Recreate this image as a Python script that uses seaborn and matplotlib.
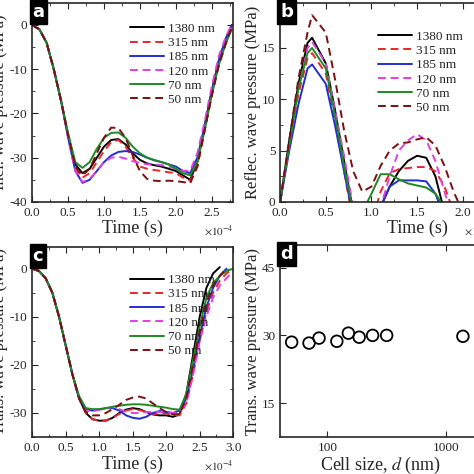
import numpy as np
import matplotlib
matplotlib.use("Agg")
import matplotlib.pyplot as plt
import seaborn as sns
from matplotlib.ticker import AutoMinorLocator

sns.set_style("ticks")
plt.rcParams['font.family'] = ['Liberation Serif', 'DejaVu Serif']
plt.rcParams['mathtext.fontset'] = 'stix'
plt.rcParams['axes.unicode_minus'] = False

labels = ['1380 nm', '315 nm', '185 nm', '120 nm', '70 nm', '50 nm']
colors = ['black', '#e8262b', '#1f2fd1', '#e040e0', '#1e8a24', '#7a1010']
styles = ['-', '--', '-', '--', '-', '--']
nan = np.nan

# panel a: incident wave
t_a = [0, .1, .2, .3, .4, .5, .6, .7, .8, .9, 1.0, 1.1, 1.2, 1.3, 1.4, 1.5, 1.6, 1.7,
       1.8, 1.9, 2.0, 2.1, 2.2, 2.3, 2.4, 2.5, 2.6, 2.7, 2.78]
inc = [
    [0, -1, -4, -10, -17, -25, -31.5, -33.5, -32.5, -30, -27.5, -26, -25.8, -27, -29, -30.5, -31.3, -31.7, -32, -32.5, -33, -34, -35, -31, -23, -15, -8, -3, 0],
    [0, -1, -4, -10, -17, -25, -32.5, -34.5, -33.5, -31, -28.5, -26.5, -26, -27.5, -30, -32, -32.5, -32.8, -33, -33.3, -33.5, -34.5, -35.2, -32, -24, -16, -9, -4, -0.5],
    [0, -1, -4, -10, -17, -25.5, -33, -35.7, -35, -33, -31, -29.5, -28.7, -28.5, -28.7, -29.3, -30, -30.6, -31, -31.5, -32, -33, -33.5, -30, -23, -15, -8, -3, 0],
    [0, -1, -4, -10, -17, -25.5, -33, -35.5, -34.8, -33, -31, -30, -29.8, -30.2, -30.8, -31.2, -31.5, -31.5, -31.7, -32, -32.5, -33, -33, -29, -22, -14, -7, -2.5, 0],
    [0, -1, -4, -10, -17, -24.5, -31, -32.3, -31, -28, -25.5, -24.4, -24.3, -25.5, -27.5, -29, -30, -30.5, -31, -31.5, -32.5, -33.5, -34, -31, -24, -16, -9, -4, -1],
    [0, -1, -4, -10, -17, -25, -32, -34, -32.5, -29, -25.5, -23.2, -23.3, -25.5, -29.5, -33, -34.8, -35.2, -35.3, -35.2, -35.3, -35.5, -35.8, -32, -24, -16, -9, -4, -0.5],
]

# panel b: reflected wave
t_b = [0, .1, .2, .3, .35, .5, .6, .7, .8, .9, 1.0, 1.1, 1.2, 1.3, 1.4, 1.5, 1.6, 1.7, 1.8, 1.9, 2.0, 2.1]
refl = [
    [0, 6, 11.5, 15.5, 16, 13.5, 9, 4, -1, -4, -3, -0.5, 1.5, 3, 4, 4.5, 4.3, 2.5, -1, -3, -4, -4],
    [0, 5.5, 10.5, 14, 14.5, 12.5, 8, 3, -2, -4, -2, 1, 2.8, 3.2, 3.3, 3.4, 3.4, 3, 1.5, -1, -3, -3],
    [0, 5, 9.5, 13, 13.4, 11.5, 7.5, 3, -1.5, -4, -3, -0.5, 1.5, 2.1, 2.1, 2.1, 2, 0.8, -1.5, -3, -4, -4],
    [0, 5.5, 11, 15, 15.6, 13.5, 9, 4.5, -0.5, -3, -2, -0.5, 2.5, 5, 6, 6.6, 6, 4, 1, -2, -3, -3],
    [0, 5.5, 11, 14.5, 15, 13, 8.5, 3.5, -1, -1, 0.8, 2.7, 2.7, 2.2, 1.8, 1.6, 1.4, 0.8, -0.5, -2, -3, -3],
    [0, 6, 12, 16.5, 18.2, 16.5, 12, 7, 3, 1, 1.5, 3.5, 5, 5.7, 5.8, 6.1, 6.3, 5.5, 3.5, 1, -1, -2],
]

# panel c: transmitted wave
t_c = [round(0.1 * i, 1) for i in range(31)]
trans = [
    [0, -0.5, -2, -5, -10, -16, -22, -27, -30, -31.3, -31.6, -31.6, -31, -30, -29.3, -29, -29.2, -29.8, -30.3, -30.5, -30.5, -30.8, -30.3, -26, -18, -10, -4, -1, 0.3, nan, nan],
    [0, -0.5, -2, -5, -10, -16, -22, -27, -30, -31.3, -31.6, -31.5, -31, -30.2, -29.5, -29.2, -29.4, -29.8, -30.2, -30.2, -30.1, -30.4, -30.5, -28, -22, -15, -9, -5, -2.5, -1, 0],
    [0, -0.5, -2, -5, -10, -16, -22, -27, -29.3, -29.5, -29.3, -29, -29, -29.5, -30.5, -31, -31.2, -30.8, -30, -29.6, -29.8, -30, -29.5, -27, -21, -14, -8, -4, -1.5, 0, nan],
    [0, -0.5, -2, -5, -10, -16, -22, -27, -29.5, -29.7, -29.3, -29, -28.8, -29.2, -29.8, -30, -30, -29.8, -29.8, -29.8, -29.8, -30, -29.8, -28, -22, -15, -10, -6, -3.5, -2, -0.5],
    [0, -0.5, -2, -5, -10, -16, -22, -26.5, -29, -29.2, -29.2, -29, -28.7, -28.5, -28.3, -28.2, -28.2, -28.3, -28.5, -28.7, -28.9, -29.2, -29.3, -26, -19, -12, -6, -3, -1.5, -0.5, 0],
    [0, -0.5, -2, -5, -10, -16, -22, -27, -29.8, -30.5, -30.5, -30, -29.2, -28.3, -27.3, -26.8, -26.6, -27, -28, -29, -29.8, -30.3, -30.2, -27, -20, -13, -7, -3.5, -1.5, 0, nan],
]

# panel d: peak transmitted pressure vs cell size
cell_size = [50, 70, 85, 120, 150, 185, 240, 315, 1380]
peak_trans = [28.5, 28.3, 29.4, 28.7, 30.5, 29.6, 30.0, 30.0, 29.8]

fig = plt.figure(figsize=(4.74, 4.74), dpi=100)
ax_a = fig.add_axes([0.068, 0.574, 0.424, 0.42])
ax_b = fig.add_axes([0.591, 0.574, 0.578, 0.42])
ax_c = fig.add_axes([0.068, 0.078, 0.424, 0.401])
ax_d = fig.add_axes([0.591, 0.078, 0.426, 0.405])


def draw_lines(ax, t, series, anchor):
    for y, lab, c, ls in zip(series, labels, colors, styles):
        line = sns.lineplot(x=t, y=y, ax=ax, color=c, lw=1.4, label=lab).lines[-1]
        if ls == '--':
            line.set_dashes((4, 2.5))
    ax.legend(frameon=False, fontsize=9.5, handlelength=2.6, labelspacing=0.15,
              handletextpad=0.3, loc='upper right', bbox_to_anchor=anchor)


def style(ax, letter):
    ax.tick_params(direction='in', which='both', top=True, right=True, labelsize=9.5)
    ax.tick_params(which='major', length=4)
    ax.tick_params(which='minor', length=2)
    for s in ax.spines.values():
        s.set_linewidth(1.2)
    ax.text(0.0, 1.0, letter, transform=ax.transAxes, ha='left', va='top', color='white',
            fontsize=13, fontweight='bold', family='DejaVu Sans',
            bbox=dict(boxstyle='square,pad=0.15', fc='black', ec='black'))


draw_lines(ax_a, t_a, inc, (0.97, 0.96))
ax_a.set_xlim(0, 2.8)
ax_a.set_ylim(-40, 5)
ax_a.set_yticks([-40, -30, -20, -10, 0])
ax_a.set_xticks([0, 0.5, 1.0, 1.5, 2.0, 2.5])
ax_a.set_ylabel('Inci. wave pressure (MPa)', fontsize=12, labelpad=1)

draw_lines(ax_b, t_b, refl, (0.71, 0.92))
ax_b.set_xlim(0, 3.0)
ax_b.set_ylim(0, 19.4)
ax_b.set_yticks([0, 5, 10, 15])
ax_b.set_xticks([0, 0.5, 1.0, 1.5, 2.0, 2.5, 3.0])
ax_b.set_ylabel('Reflec. wave pressure (MPa)', fontsize=12, labelpad=1)

draw_lines(ax_c, t_c, trans, (0.97, 0.92))
ax_c.set_xlim(0, 3.0)
ax_c.set_ylim(-35, 4.5)
ax_c.set_yticks([-30, -20, -10, 0])
ax_c.set_xticks([0, 0.5, 1.0, 1.5, 2.0, 2.5, 3.0])
ax_c.set_ylabel('Trans. wave pressure (MPa)', fontsize=12, labelpad=1)

for ax in (ax_a, ax_b, ax_c):
    ax.set_xticklabels([f'{v:.1f}' for v in ax.get_xticks()])
    ax.set_xlabel('Time (s)', fontsize=13, labelpad=1)
    ax.xaxis.set_minor_locator(AutoMinorLocator(2))
    ax.yaxis.set_minor_locator(AutoMinorLocator(2))
ax_a.text(1.0, -0.11, r'$\times10^{-4}$', transform=ax_a.transAxes, ha='right', va='top', fontsize=8)
ax_c.text(1.0, -0.11, r'$\times10^{-4}$', transform=ax_c.transAxes, ha='right', va='top', fontsize=8)
ax_b.text(0.67, -0.11, r'$\times10^{-4}$', transform=ax_b.transAxes, ha='left', va='top', fontsize=8)

sns.scatterplot(x=cell_size, y=peak_trans, ax=ax_d, s=70, facecolor='none',
                edgecolor='black', linewidth=1.3)
ax_d.set_xscale('log')
ax_d.set_xlim(40, 2000)
ax_d.set_ylim(7.5, 50)
ax_d.set_yticks([15, 30, 45])
ax_d.set_xticks([100, 1000])
ax_d.set_xticklabels(['100', '1000'])
ax_d.set_xlabel('Cell size, $d$ (nm)', fontsize=13, labelpad=1)
ax_d.set_ylabel('Trans. wave pressure (MPa)', fontsize=12, labelpad=1)

for ax, l in zip((ax_a, ax_b, ax_c, ax_d), 'abcd'):
    style(ax, l)
ax_d.tick_params(which='minor', length=0)

fig.savefig('out.png', dpi=100)
